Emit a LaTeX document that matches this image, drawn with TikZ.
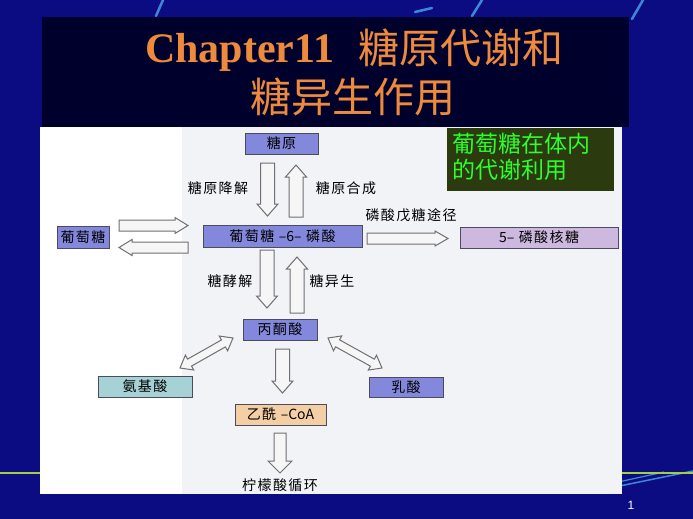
\documentclass[tikz,border=0pt]{standalone}
\usepackage{fontspec}
\setmainfont{Liberation Serif}
\newfontfamily\cjk{Noto Sans CJK SC}
\newfontfamily\cjkd{Noto Sans CJK SC}[LetterSpace=10]
\newfontfamily\sansnum{Liberation Sans}
\usetikzlibrary{calc}
\definecolor{slidebg}{HTML}{0C0C82}
\definecolor{titlebg}{HTML}{00002C}
\definecolor{titleor}{HTML}{EE8A3C}
\definecolor{streak}{HTML}{3F86D6}
\definecolor{lime}{HTML}{A2D03C}
\definecolor{panelgrey}{HTML}{F2F3F7}
\definecolor{boxblue}{HTML}{8488DC}
\definecolor{boxlav}{HTML}{CDB8DF}
\definecolor{boxteal}{HTML}{A6D2D6}
\definecolor{boxpeach}{HTML}{F4CFA6}
\definecolor{boxedge}{HTML}{4C4C5C}
\definecolor{olivebox}{HTML}{2C3A10}
\definecolor{brightgreen}{HTML}{2CFF2C}
\definecolor{arrowedge}{HTML}{707074}
\definecolor{arrowfill}{HTML}{F6F6F6}
\newcommand{\hollowarrow}[5]{%
  \path ($(#2)!#5!(#1)$) coordinate (hh);
  \draw[hollow] ($(#1)!#3!90:(#2)$) -- ($(hh)!#3!90:(#2)$) -- ($(hh)!#4!90:(#2)$) -- (#2)
    -- ($(hh)!#4!-90:(#2)$) -- ($(hh)!#3!-90:(#2)$) -- ($(#1)!#3!-90:(#2)$) -- cycle;}
\newcommand{\hollowdarrow}[5]{%
  \path ($(#1)!#5!(#2)$) coordinate (ha) ($(#2)!#5!(#1)$) coordinate (hb);
  \draw[hollow] (#1) -- ($(ha)!#4!90:(#2)$) -- ($(ha)!#3!90:(#2)$) -- ($(hb)!#3!90:(#2)$)
    -- ($(hb)!#4!90:(#2)$) -- (#2) -- ($(hb)!#4!-90:(#2)$) -- ($(hb)!#3!-90:(#2)$)
    -- ($(ha)!#3!-90:(#2)$) -- ($(ha)!#4!-90:(#2)$) -- cycle;}
\tikzset{
  hollow/.style={draw=arrowedge, fill=arrowfill, line width=1pt, line join=miter},
  chembox/.style={draw=boxedge, line width=1pt, inner sep=0pt, font=\cjkd\fontsize{14}{16}\selectfont, text=black},
  lbl/.style={inner sep=0pt, font=\cjkd\fontsize{14}{16}\selectfont, text=black},
  streakline/.style={draw=streak, line width=2.5pt, line cap=round}
}
\begin{document}
\begin{tikzpicture}[x=1pt,y=-1pt]
\useasboundingbox (0,0) rectangle (693,519);
% slide background
\fill[slidebg] (0,0) rectangle (693,519);
\draw[streakline] (163,0) -- (156,16);
\draw[streakline] (482,0) -- (472,16);
\draw[streakline] (643,0) -- (632,19);
\draw[streakline] (415,12) -- (432,8);
\draw[streak, line width=1.5pt] (600,490) -- (693,471);
\draw[streak, line width=1.2pt] (600,486) -- (664,472);
\draw[lime, line width=2pt] (0,473) -- (693,473);
% title box
\fill[titlebg] (42,17) rectangle (629,127);
\node[anchor=base west, inner sep=0pt, text=titleor, font=\bfseries\fontsize{42}{46}\selectfont] (chap) at (145,63) {Chapter11};
\node[inner sep=0pt, text=titleor, font=\cjk\fontsize{41}{46}\selectfont] (title1) at (461,47.5) {糖原代谢和};
\node[inner sep=0pt, text=titleor, font=\cjk\fontsize{41}{46}\selectfont] (title2) at (353,96.5) {糖异生作用};
% white panel
\fill[white] (40,127) rectangle (622,494);
\fill[panelgrey] (182,127) rectangle (622,494);
% green note
\node[fill=olivebox, minimum width=167pt, minimum height=63pt, inner sep=0pt] (note) at (530.5,159.5) {};
\node[anchor=north west, align=left, inner sep=0pt, text=brightgreen, font=\cjk\fontsize{23}{26}\selectfont] (notetext) at (452,133) {葡萄糖在体内\\的代谢利用};
% boxes
\node[chembox, fill=boxblue, minimum width=73pt, minimum height=21pt] (glycogen) at (281.5,143.5) {糖原};
\node[chembox, fill=boxblue, minimum width=159pt, minimum height=22pt] (g6p) at (282.5,236) {葡萄糖 {\cjk –6–} 磷酸};
\node[chembox, fill=boxblue, minimum width=52pt, minimum height=22pt] (glc) at (83,237) {葡萄糖};
\node[chembox, fill=boxlav, minimum width=158pt, minimum height=21pt] (r5p) at (539,237.5) {{\cjk 5–} 磷酸核糖};
\node[chembox, fill=boxblue, minimum width=74pt, minimum height=21pt] (pyr) at (280,329.5) {丙酮酸};
\node[chembox, fill=boxteal, minimum width=94pt, minimum height=21pt] (aa) at (145,386.5) {氨基酸};
\node[chembox, fill=boxblue, minimum width=74pt, minimum height=20pt] (lac) at (406,387) {乳酸};
\node[chembox, fill=boxpeach, minimum width=91pt, minimum height=21pt] (acoa) at (280.5,414.5) {乙酰 {\cjk –CoA}};
\node[lbl] (tca) at (280,485) {柠檬酸循环};
% labels
\node[lbl] (l1) at (218,188) {糖原降解};
\node[lbl] (l2) at (346,188) {糖原合成};
\node[lbl] (l3) at (411,215) {磷酸戊糖途径};
\node[lbl] (l4) at (230,281) {糖酵解};
\node[lbl] (l5) at (332,281) {糖异生};
% arrow end points
\coordinate (a1s) at (267.5,163); \coordinate (a1e) at (267.5,216);
\coordinate (a2s) at (296,217);   \coordinate (a2e) at (296,165);
\coordinate (a3s) at (119,225.5); \coordinate (a3e) at (188,225.5);
\coordinate (a4s) at (188,247.5); \coordinate (a4e) at (119,247.5);
\coordinate (a5s) at (367,238.5); \coordinate (a5e) at (448,238.5);
\coordinate (a6s) at (267,250);   \coordinate (a6e) at (267,308);
\coordinate (a7s) at (297,313);   \coordinate (a7e) at (297,257);
\coordinate (a8s) at (180,368);   \coordinate (a8e) at (233,338);
\coordinate (a9s) at (328,338);   \coordinate (a9e) at (382,368);
\coordinate (a10s) at (282.5,349); \coordinate (a10e) at (282.5,393);
\coordinate (a11s) at (280,433);  \coordinate (a11e) at (280,473);
% arrows
\hollowarrow{a1s}{a1e}{7pt}{10.5pt}{12pt}
\hollowarrow{a2s}{a2e}{7pt}{10.5pt}{12pt}
\hollowarrow{a3s}{a3e}{5.5pt}{8pt}{13pt}
\hollowarrow{a4s}{a4e}{5.5pt}{8pt}{13pt}
\hollowarrow{a5s}{a5e}{5.5pt}{7.5pt}{13pt}
\hollowarrow{a6s}{a6e}{7pt}{10.5pt}{12pt}
\hollowarrow{a7s}{a7e}{7pt}{10.5pt}{12pt}
\hollowdarrow{a8s}{a8e}{4pt}{8.5pt}{11pt}
\hollowdarrow{a9s}{a9e}{4pt}{8.5pt}{11pt}
\hollowarrow{a10s}{a10e}{7pt}{10.5pt}{12pt}
\hollowarrow{a11s}{a11e}{6pt}{12pt}{12pt}
% page number
\node[text=white, inner sep=0pt, font=\sansnum\fontsize{12}{14}\selectfont] (pagenum) at (631,505) {1};
\end{tikzpicture}
\end{document}
